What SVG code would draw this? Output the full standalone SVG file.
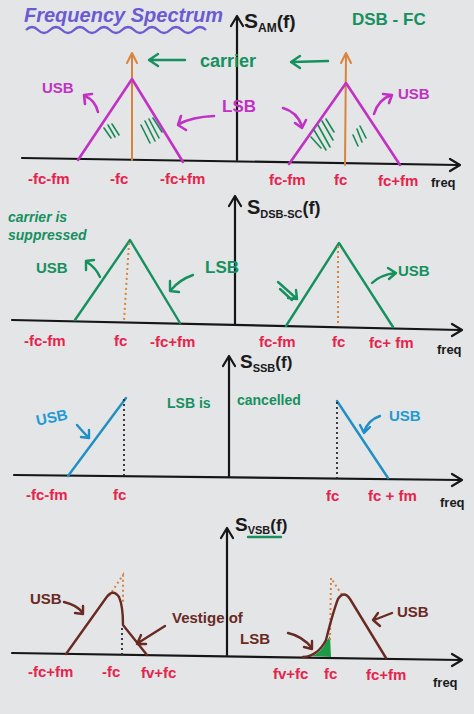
<svg xmlns="http://www.w3.org/2000/svg" width="474" height="714" viewBox="0 0 474 714">
<defs>
<style>
.ax{stroke:#161616;stroke-width:2.2;fill:none;stroke-linecap:round;stroke-linejoin:round}
.t{font-family:"Liberation Sans",Arial,sans-serif;font-weight:bold}
.red{fill:#e5234b;font-size:15px}
.blk{fill:#1a1a1a}
.grn{fill:#16905e}
.mag{fill:#c132c4}
.blu{fill:#1f9ad3}
.brn{fill:#6a2a24}
.pur{fill:#6b5bd3}
.sm{stroke:#c132c4;stroke-width:2.6;fill:none;stroke-linecap:round;stroke-linejoin:round}
.sg{stroke:#16905e;stroke-width:2.4;fill:none;stroke-linecap:round;stroke-linejoin:round}
.sb{stroke:#1f8fc4;stroke-width:2.4;fill:none;stroke-linecap:round;stroke-linejoin:round}
.sbr{stroke:#6a2a24;stroke-width:2.4;fill:none;stroke-linecap:round;stroke-linejoin:round}
.so{stroke:#d9843c;stroke-width:2;fill:none;stroke-linecap:round;stroke-linejoin:round}
.sod{stroke:#d9843c;stroke-width:2;fill:none;stroke-dasharray:2 3}
.sdk{stroke:#2a2a2a;stroke-width:1.8;fill:none;stroke-dasharray:2 3}
.hat{stroke:#1a8a55;stroke-width:1.6;fill:none;stroke-linecap:round}
</style>
</defs>
<rect width="474" height="714" fill="#e3e5e7"/>

<!-- Panel 1 -->
<g id="panel1">
<text class="t pur" x="24" y="22" font-size="20" font-style="italic">Frequency Spectrum</text>
<path d="M26,30 q6,-6 12,0 t12,0 t12,0 t12,0 t12,0 t12,0 t12,0 t12,0 t12,0 t12,0 t12,0 t12,0 t12,0 t12,0 t12,0" stroke="#6b5bd3" stroke-width="2.4" fill="none"/>
<path class="ax" d="M237,160 L237,18 M231,26 L237,16 L243,26"/>
<text class="t blk" x="244" y="28" font-size="21" font-weight="normal">S<tspan font-size="12" dy="4">AM</tspan><tspan font-size="19" dy="-4">(f)</tspan></text>
<text class="t grn" x="352" y="25" font-size="17">DSB - FC</text>
<path class="ax" d="M22,158 L458,165 M450,159 L460,165 L450,171"/>
<path class="so" d="M132,160 L132,55 M127,63 L132,53 L137,63"/>
<path class="so" d="M345,165 L346,55 M341,63 L346,53 L351,63"/>
<polyline class="sm" points="78,160 132,79 183,162"/>
<polyline class="sm" points="289,164 346,83 400,165"/>
<path class="hat" d="M104,128 L111,138 M108,125 L115,137 M112,124 L119,135 M141,125 L150,143 M145,121 L155,141 M149,119 L159,138 M153,118 L162,132 M311,137 L321,148 M314,130 L326,150 M318,125 L330,147 M322,121 L333,140 M326,119 L334,132 M353,135 L358,146 M357,129 L362,142 M360,126 L366,138"/>
<text class="t grn" x="200" y="67" font-size="18" font-weight="normal">carrier</text>
<path class="sg" d="M185,60 L150,60 M158,54 L149,60 L158,66"/>
<path class="sg" d="M328,61 L292,62 M300,56 L291,62 L300,68"/>
<text class="t mag" x="42" y="93" font-size="15">USB</text>
<path class="sm" d="M98,112 Q95,100 85,96 M85,104 L84,95 L92,94"/>
<text class="t mag" x="398" y="99" font-size="15">USB</text>
<path class="sm" d="M374,114 Q378,100 391,95 M383,94 L392,95 L389,103"/>
<text class="t mag" x="222" y="112" font-size="17">LSB</text>
<path class="sm" d="M214,116 Q192,117 179,124 M181,116 L178,125 L186,130"/>
<path class="sm" d="M283,108 Q297,112 302,126 M295,123 L302,128 L306,120"/>
<text class="t red" x="28" y="184">-fc-fm</text>
<text class="t red" x="110" y="184">-fc</text>
<text class="t red" x="160" y="184">-fc+fm</text>
<text class="t red" x="269" y="185">fc-fm</text>
<text class="t red" x="334" y="185">fc</text>
<text class="t red" x="378" y="186">fc+fm</text>
<text class="t blk" x="431" y="187" font-size="13">freq</text>
</g>

<!-- Panel 2 -->
<g id="panel2">
<path class="ax" d="M235,325 L235,198 M229,206 L235,196 L241,206"/>
<text class="t blk" x="247" y="214" font-size="20" font-weight="normal">S<tspan font-size="11" dy="4">DSB-SC</tspan><tspan font-size="18" dy="-4">(f)</tspan></text>
<text class="t grn" x="8" y="222" font-size="14" font-style="italic">carrier is</text>
<text class="t grn" x="8" y="240" font-size="14" font-style="italic">suppressed</text>
<path class="ax" d="M12,320 L460,330 M452,324 L462,330 L452,336"/>
<polyline class="sg" points="75,320 130,240 180,323"/>
<polyline class="sg" points="286,326 339,243 393,327"/>
<path class="sod" d="M129,243 L124,321"/>
<path class="sod" d="M338,246 L338,326"/>
<text class="t grn" x="36" y="273" font-size="15">USB</text>
<path class="sg" d="M100,277 Q96,268 87,262 M86,270 L86,261 L94,260"/>
<text class="t grn" x="205" y="273" font-size="17">LSB</text>
<path class="sg" d="M193,275 Q179,280 171,290 M170,281 L170,291 L179,292"/>
<path class="sg" d="M278,282 L296,298 M288,298 L297,299 L296,290 M280,289 L292,300"/>
<text class="t grn" x="398" y="276" font-size="15">USB</text>
<path class="sg" d="M372,283 Q380,275 395,273 M388,268 L396,273 L389,279"/>
<text class="t red" x="24" y="346">-fc-fm</text>
<text class="t red" x="114" y="346">fc</text>
<text class="t red" x="150" y="347">-fc+fm</text>
<text class="t red" x="259" y="347">fc-fm</text>
<text class="t red" x="332" y="347">fc</text>
<text class="t red" x="369" y="348">fc+ fm</text>
<text class="t blk" x="437" y="354" font-size="13">freq</text>
</g>

<!-- Panel 3 -->
<g id="panel3">
<path class="ax" d="M229,477 L229,358 M223,366 L229,356 L235,366"/>
<text class="t blk" x="240" y="368" font-size="19" font-weight="normal">S<tspan font-size="11" dy="4">SSB</tspan><tspan font-size="17" dy="-4">(f)</tspan></text>
<text class="t grn" x="167" y="408" font-size="14">LSB is</text>
<text class="t grn" x="237" y="405" font-size="14">cancelled</text>
<path class="ax" d="M14,475 L460,480 M452,474 L462,480 L452,486"/>
<path class="sb" d="M68,476 L126,398"/>
<path class="sdk" d="M124,399 L124,477" stroke="#1f6f9a"/>
<path class="sb" d="M337,401 L388,478"/>
<path class="sdk" d="M337,402 L337,478" stroke="#1f6f9a"/>
<text class="t blu" x="36" y="423" font-size="15" transform="rotate(-12 50 418)">USB</text>
<path class="sb" d="M77,425 Q83,432 89,438 M81,437 L89,438 L89,430"/>
<text class="t blu" x="389" y="421" font-size="15">USB</text>
<path class="sb" d="M380,416 Q368,420 364,432 M360,425 L364,433 L370,427"/>
<text class="t red" x="26" y="500">-fc-fm</text>
<text class="t red" x="113" y="500">fc</text>
<text class="t red" x="326" y="501">fc</text>
<text class="t red" x="368" y="501">fc + fm</text>
<text class="t blk" x="440" y="507" font-size="13">freq</text>
</g>

<!-- Panel 4 -->
<g id="panel4">
<path class="ax" d="M227,655 L227,530 M221,538 L227,528 L233,538"/>
<text class="t blk" x="235" y="531" font-size="19" font-weight="normal">S<tspan font-size="11" dy="3">VSB</tspan><tspan font-size="17" dy="-3">(f)</tspan></text>
<path d="M248,537 L281,537" stroke="#16905e" stroke-width="2.4" stroke-linecap="round"/>
<path class="ax" d="M12,653 L460,660 M452,654 L462,660 L452,666"/>
<path class="sod" d="M109,596 L123,575 L123,602"/>
<path class="sdk" d="M122,628 L122,655"/>
<path class="sbr" d="M66,654 L106,598 Q113,588 119,597 Q123,606 123,625 L147,655"/>
<text class="t brn" x="30" y="604" font-size="15">USB</text>
<path class="sbr" d="M64,602 Q77,605 83,613 M75,613 L83,614 L83,606"/>
<text class="t brn" x="172" y="623" font-size="15">Vestige of</text>
<text class="t brn" x="240" y="644" font-size="15">LSB</text>
<path class="sbr" d="M165,626 L138,643 M141,635 L137,644 L146,644"/>
<path d="M312,656 Q322,652 326,642 L330,636 L331,657 Z" fill="#1d9a45"/>
<path class="sod" d="M330,640 L331,578 L342,595"/>
<path class="sbr" d="M303,657 Q318,656 326,640 Q333,612 338,599 Q344,590 350,599 L386,658"/>
<path class="sbr" d="M288,633 Q302,636 312,648 M304,647 L312,649 L312,641"/>
<text class="t brn" x="397" y="617" font-size="15">USB</text>
<path class="sbr" d="M392,613 L374,620 M378,613 L373,620 L380,626"/>
<text class="t red" x="28" y="677">-fc+fm</text>
<text class="t red" x="102" y="677">-fc</text>
<text class="t red" x="141" y="678">fv+fc</text>
<text class="t red" x="273" y="679">fv+fc</text>
<text class="t red" x="324" y="679">fc</text>
<text class="t red" x="366" y="680">fc+fm</text>
<text class="t blk" x="433" y="687" font-size="13">freq</text>
</g>
</svg>
